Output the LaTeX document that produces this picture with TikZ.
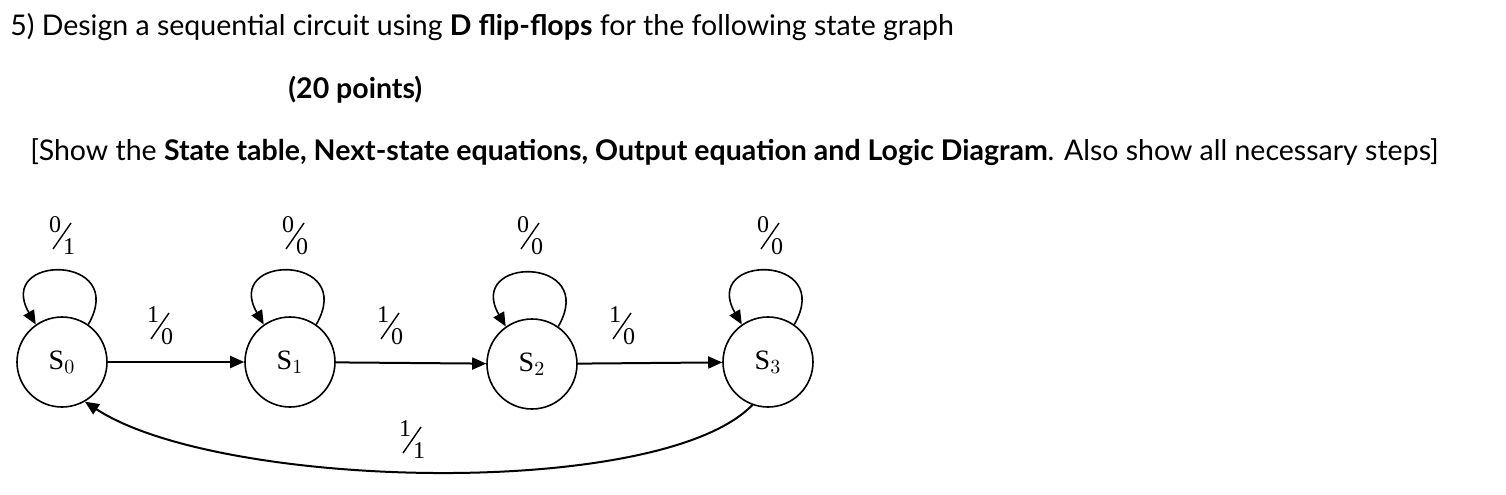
\documentclass[tikz,border=0pt]{standalone}
\usepackage{fontspec}
\setmainfont{Lato}
\newfontfamily\serif{Liberation Serif}
\usetikzlibrary{arrows.meta,calc}
\begin{document}
\begin{tikzpicture}[x=0.5pt,y=-0.5pt,
  st/.style={circle,draw,line width=0.8pt,minimum size=45pt,inner sep=0pt,font=\serif\fontsize{14}{14}\selectfont},
  ar/.style={line width=1pt,-{Triangle[length=7pt,width=6pt]}},
  dg/.style={font=\serif\fontsize{12}{12}\selectfont,inner sep=0pt},
  tx/.style={anchor=west,font=\fontsize{14.25}{16}\selectfont,inner sep=0pt}]
\useasboundingbox (0,0) rectangle (1506,494);
\newcommand\fracnode[4]{%
  \node[dg] (#1n) at ($(#2)+(-7,-11)$) {#3};
  \node[dg] (#1d) at ($(#2)+(7,11)$) {#4};
  \draw[line width=0.7pt] ($(#2)+(-9,13)$) coordinate (#1a) -- ($(#2)+(9,-13)$) coordinate (#1b);}
\node[tx] (t1) at (10,27) {5) Design a sequential circuit using \textbf{D flip-flops} for the following state graph};
\node[tx] (t2) at (288,90) {\textbf{(20 points)}};
\node[tx] (t3) at (30,152) {[Show the \textbf{State table, Next-state equations, Output equation and Logic Diagram}. Also show all necessary steps]};
\node[st] (s0) at (62,362) {S$_0$};
\node[st] (s1) at (290,362) {S$_1$};
\node[st] (s2) at (532,364) {S$_2$};
\node[st] (s3) at (768,362) {S$_3$};
\foreach \s in {s0,s1,s2,s3}
  \draw[ar,line width=0.8pt] (\s.55) to[out=60,in=120,looseness=4] (\s.125);
\draw[ar] (s0) -- (s1);
\draw[ar] (s1) -- (s2);
\draw[ar] (s2) -- (s3);
\draw[ar] (s3.250) .. controls (660,500) and (220,490) .. (s0.300);
\fracnode{l0}{62,236}{0}{1}
\fracnode{l1}{295,236}{0}{0}
\fracnode{l2}{530,236}{0}{0}
\fracnode{l3}{770,236}{0}{0}
\fracnode{a1}{160,326}{1}{0}
\fracnode{a2}{390,326}{1}{0}
\fracnode{a3}{622,326}{1}{0}
\fracnode{a4}{412,440}{1}{1}
\end{tikzpicture}
\end{document}
